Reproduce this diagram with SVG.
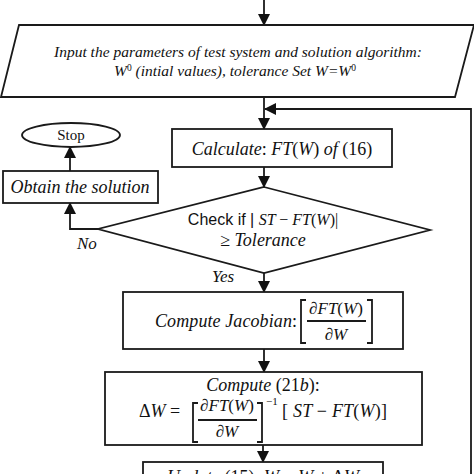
<svg xmlns="http://www.w3.org/2000/svg" width="474" height="474" viewBox="0 0 474 474">
<defs>
<marker id="ah" markerWidth="12" markerHeight="12" refX="11" refY="6" orient="auto" markerUnits="userSpaceOnUse">
<path d="M0,0 L12,6 L0,12 Z" fill="#111"/>
</marker>
<style>
.s{fill:#fff;stroke:#1a1a1a;stroke-width:1.8}
.c{fill:none;stroke:#1a1a1a;stroke-width:1.8}
.m{font-family:"Liberation Serif",serif;font-style:italic;fill:#111}
.r{font-family:"Liberation Serif",serif;font-style:normal;fill:#111}
.sans{font-family:"Liberation Sans",sans-serif;font-style:normal;fill:#111}
</style>
</defs>
<rect width="474" height="474" fill="#fff"/>
<g id="connectors">
<line class="c" x1="264" y1="0" x2="264" y2="25" marker-end="url(#ah)"/>
<line class="c" x1="264" y1="98" x2="264" y2="129" marker-end="url(#ah)"/>
<polyline class="c" points="471,474 471,109 265,109" marker-end="url(#ah)"/>
<line class="c" x1="264" y1="167" x2="264" y2="187" marker-end="url(#ah)"/>
<polyline class="c" points="98,229 70,229 70,203" marker-end="url(#ah)"/>
<line class="c" x1="70" y1="171" x2="70" y2="147" marker-end="url(#ah)"/>
<line class="c" x1="264" y1="273" x2="264" y2="292" marker-end="url(#ah)"/>
<line class="c" x1="264" y1="349" x2="264" y2="372" marker-end="url(#ah)"/>
<line class="c" x1="263" y1="445" x2="263" y2="462" marker-end="url(#ah)"/>
<text class="m" x="77" y="249" font-size="17">No</text>
<text class="m" x="212" y="282" font-size="17">Yes</text>
</g>
<g id="input">
<polygon class="s" points="19,25 474,25 455,97 1,97"/>
<text class="m" x="238" y="57" font-size="15.5" text-anchor="middle" textLength="368">Input the parameters of test system and solution algorithm:</text>
<text class="m" x="235" y="76" font-size="15.5" text-anchor="middle">W<tspan font-size="9.5" dy="-5" font-style="normal">0</tspan><tspan dy="5"> (intial values), tolerance Set W=W</tspan><tspan font-size="9.5" dy="-5" font-style="normal">0</tspan></text>
</g>
<g id="calculate">
<rect class="s" x="172" y="129" width="220" height="38"/>
<text class="m" x="282" y="155" font-size="18" text-anchor="middle">Calculate<tspan font-style="normal">:</tspan> FT<tspan font-style="normal">(</tspan>W<tspan font-style="normal">)</tspan> of <tspan font-style="normal">(16)</tspan></text>
</g>
<g id="check">
<polygon class="s" points="264,187 430,230 264,273 98,229"/>
<text x="263" y="225" font-size="16" text-anchor="middle" class="m"><tspan class="sans">Check if | </tspan>ST <tspan font-style="normal">−</tspan> FT<tspan font-style="normal">(</tspan>W<tspan font-style="normal">)|</tspan></text>
<text x="263" y="246" font-size="18" text-anchor="middle" class="m"><tspan font-style="normal">≥</tspan> Tolerance</text>
</g>
<g id="obtain">
<rect class="s" x="3" y="171" width="155" height="32"/>
<text class="m" x="80" y="193" font-size="18" text-anchor="middle">Obtain the solution</text>
</g>
<g id="stop">
<ellipse class="s" cx="71" cy="135" rx="49" ry="12"/>
<text class="r" x="71" y="140" font-size="15" text-anchor="middle">Stop</text>
</g>
<g id="jacobian">
<rect class="s" x="123" y="292" width="280" height="57"/>
<text class="m" x="155" y="327" font-size="18" textLength="142">Compute Jacobian<tspan font-style="normal">:</tspan></text>
<path class="c" d="M306,300 H301 V343 H306 M367,300 H372 V343 H367" stroke-width="1.4"/>
<text class="m" x="336" y="314" font-size="17" text-anchor="middle"><tspan font-style="normal">∂</tspan>FT<tspan font-style="normal">(</tspan>W<tspan font-style="normal">)</tspan></text>
<line class="c" x1="307" y1="321" x2="366" y2="321" stroke-width="1.2"/>
<text class="m" x="336" y="340" font-size="17" text-anchor="middle"><tspan font-style="normal">∂</tspan>W</text>
</g>
<g id="compute21b">
<rect class="s" x="105" y="372" width="317" height="73"/>
<text class="m" x="263" y="391" font-size="18" text-anchor="middle">Compute <tspan font-style="normal">(21</tspan>b<tspan font-style="normal">):</tspan></text>
<text class="m" x="139" y="417" font-size="18"><tspan font-style="normal">Δ</tspan>W <tspan font-style="normal">=</tspan></text>
<path class="c" d="M198,403 H193 V442 H198 M257,403 H262 V442 H257" stroke-width="1.4"/>
<text class="m" x="227" y="411" font-size="17" text-anchor="middle"><tspan font-style="normal">∂</tspan>FT<tspan font-style="normal">(</tspan>W<tspan font-style="normal">)</tspan></text>
<line class="c" x1="198" y1="420" x2="257" y2="420" stroke-width="1.2"/>
<text class="m" x="227" y="437" font-size="17" text-anchor="middle"><tspan font-style="normal">∂</tspan>W</text>
<text class="r" x="266" y="405" font-size="11">−1</text>
<text class="m" x="282" y="417" font-size="18" textLength="105"><tspan font-style="normal">[</tspan> ST <tspan font-style="normal">−</tspan> FT<tspan font-style="normal">(</tspan>W<tspan font-style="normal">)]</tspan></text>
</g>
<g id="update">
<rect class="s" x="143" y="462" width="240" height="20"/>
<text class="m" x="263" y="483" font-size="18" text-anchor="middle">Update <tspan font-style="normal">(15):</tspan> W <tspan font-style="normal">=</tspan> W <tspan font-style="normal">+ Δ</tspan>W</text>
</g>
</svg>
